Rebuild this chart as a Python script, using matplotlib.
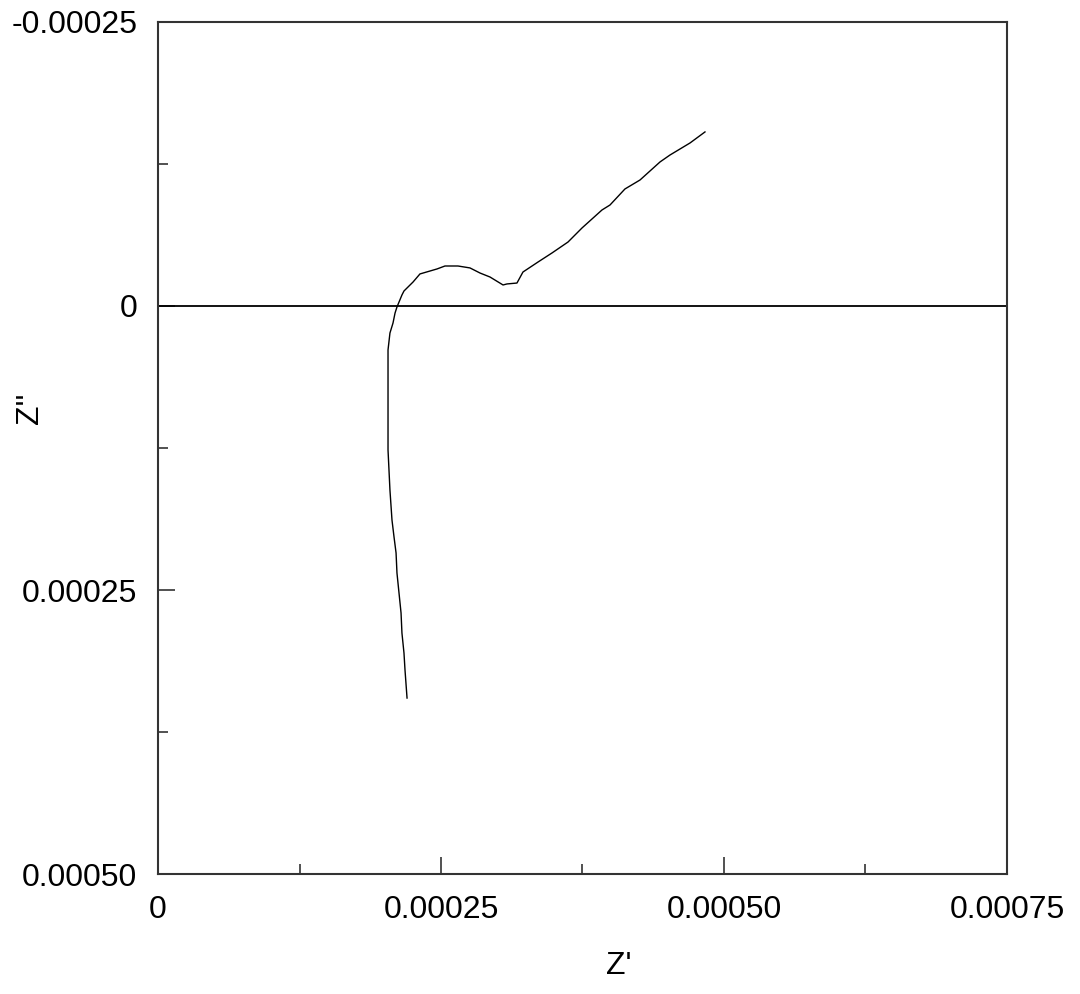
import matplotlib
matplotlib.use("Agg")
import matplotlib.pyplot as plt
import numpy as np

plt.rcParams['font.family'] = ['Liberation Sans', 'DejaVu Sans']

# Nyquist data (Z' and Z'' in ohm)
z_real = [2.200e-4, 2.182e-4, 2.173e-4, 2.155e-4, 2.147e-4, 2.129e-4, 2.111e-4,
          2.103e-4, 2.085e-4, 2.067e-4, 2.049e-4, 2.032e-4, 2.032e-4, 2.049e-4,
          2.076e-4, 2.094e-4, 2.111e-4, 2.155e-4, 2.173e-4, 2.253e-4, 2.314e-4,
          2.465e-4, 2.535e-4, 2.650e-4, 2.756e-4, 2.845e-4, 2.933e-4, 3.048e-4,
          3.083e-4, 3.171e-4, 3.224e-4, 3.357e-4, 3.481e-4, 3.622e-4, 3.746e-4,
          3.922e-4, 3.993e-4, 4.125e-4, 4.258e-4, 4.435e-4, 4.523e-4, 4.700e-4,
          4.832e-4]
z_imag = [3.451e-4, 3.204e-4, 3.055e-4, 2.879e-4, 2.702e-4, 2.526e-4, 2.350e-4,
          2.174e-4, 2.033e-4, 1.884e-4, 1.620e-4, 1.268e-4, 0.387e-4, 0.238e-4,
          0.150e-4, 0.062e-4, 0.009e-4, -0.097e-4, -0.132e-4, -0.211e-4, -0.282e-4,
          -0.326e-4, -0.352e-4, -0.352e-4, -0.335e-4, -0.290e-4, -0.255e-4, -0.185e-4,
          -0.194e-4, -0.202e-4, -0.299e-4, -0.387e-4, -0.467e-4, -0.563e-4, -0.687e-4,
          -0.845e-4, -0.889e-4, -1.030e-4, -1.109e-4, -1.268e-4, -1.329e-4, -1.435e-4,
          -1.532e-4]

x_ticks = [0, 0.00025, 0.0005, 0.00075]
x_labels = ["0", "0.00025", "0.00050", "0.00075"]
y_ticks = [-0.00025, 0, 0.00025, 0.0005]
y_labels = ["-0.00025", "0", "0.00025", "0.00050"]

fig = plt.figure(figsize=(10.8, 9.94), dpi=100)
ax = fig.add_axes([0.1463, 0.1207, 0.7861, 0.8572])

ax.plot(z_real, z_imag, color='black', lw=1.0)
ax.axhline(0, color='black', lw=1.3)

ax.set_xlim(0, 0.00075)
ax.set_ylim(0.0005, -0.00025)

ax.set_xticks(x_ticks)
ax.set_xticklabels(x_labels)
ax.set_yticks(y_ticks)
ax.set_yticklabels(y_labels)
ax.set_xticks(np.array([0.125, 0.375, 0.625]) * 1e-3, minor=True)
ax.set_yticks(np.array([-0.125, 0.125, 0.375]) * 1e-3, minor=True)

ax.tick_params(which='major', direction='in', length=12, width=1.2,
               color='#333333', labelsize=23, pad=15)
ax.tick_params(which='minor', direction='in', length=7.5, width=1.2, color='#333333')

for s in ax.spines.values():
    s.set_color('#333333')
    s.set_linewidth(1.5)

ax.set_xlabel("Z'", fontsize=23, va='center')
ax.xaxis.set_label_coords(0.543, -0.108)
ax.set_ylabel("Z''", fontsize=23, va='center')
ax.yaxis.set_label_coords(-0.151, 0.547)

fig.savefig("out.png", dpi=100)
